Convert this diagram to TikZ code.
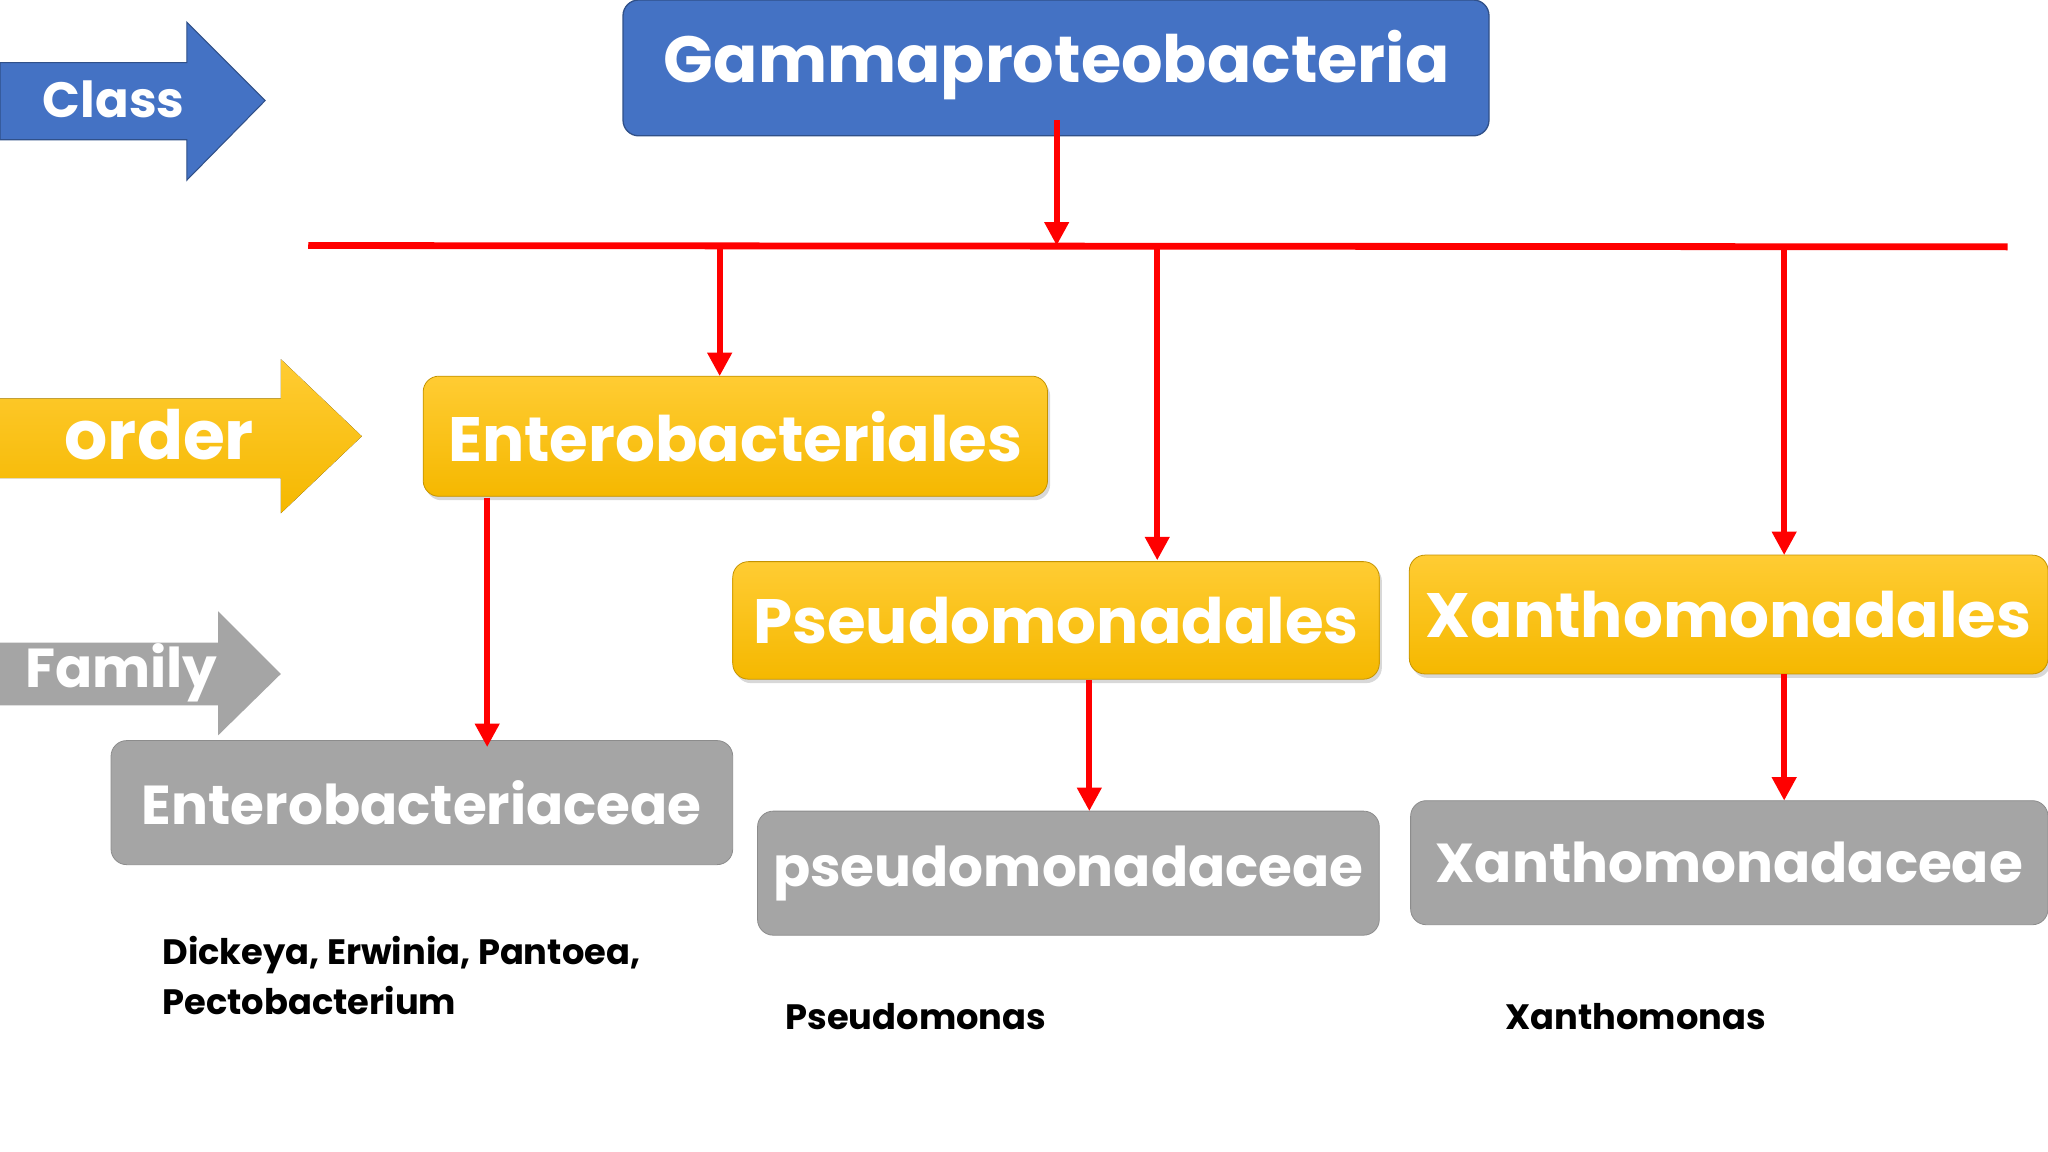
\documentclass[tikz,border=0pt]{standalone}
\usepackage{fontspec}
\setmainfont{Poppins}[BoldFont={Poppins Bold}]
\usetikzlibrary{arrows.meta,shadows}
\definecolor{blu}{HTML}{4472C4}
\definecolor{yel}{HTML}{F5B800}
\definecolor{yelt}{HTML}{FFCC33}
\definecolor{gry}{HTML}{A5A5A5}
\definecolor{red}{HTML}{FF0000}
\begin{document}
\begin{tikzpicture}[x=0.5pt,y=-0.5pt,
  box/.style={rounded corners=6pt,text=white,font=\bfseries,inner sep=0pt},
  ybox/.style={box,top color=yelt,bottom color=yel,draw=yel!80!black,line width=0.3pt,drop shadow={shadow xshift=1pt,shadow yshift=-1.5pt,opacity=0.3}},
  gbox/.style={box,fill=gry,draw=gry!85!black,line width=0.3pt},
  rarr/.style={red,line width=2.2pt,-{Triangle[length=9pt,width=9pt]}},
  sp/.style={font=\bfseries\fontsize{13.5}{17}\selectfont,anchor=west,inner sep=0pt}]
\useasboundingbox[fill=white] (0,0) rectangle (1568,882);
% class arrows
\fill[blu,draw=blu!70!black,line width=0.4pt] (0,48)--(143,48)--(143,17)--(203,77)--(143,138)--(143,107)--(0,107)--cycle;
\node[text=white,font=\bfseries\fontsize{19}{22}\selectfont] (cl) at (87,76) {Class};
\fill[top color=yelt,bottom color=yel] (0,305)--(215,305)--(215,275)--(277,334)--(215,393)--(215,366)--(0,366)--cycle;
\node[text=white,font=\bfseries\fontsize{26}{30}\selectfont] (ord) at (122,333) {order};
\fill[gry] (0,492)--(167,492)--(167,468)--(215,516)--(167,563)--(167,540)--(0,540)--cycle;
\node[text=white,font=\bfseries\fontsize{21}{24}\selectfont] (fam) at (93,515) {Family};
% boxes
\draw[box,fill=blu,draw=blu!70!black,line width=0.5pt] (477,0) rectangle (1140,104);
\node[text=white,font=\bfseries\fontsize{25}{30}\selectfont] (g) at (809,50) {Gammaproteobacteria};
\node[ybox,minimum width=239pt,minimum height=46pt,font=\bfseries\fontsize{24}{28}\selectfont] (en) at (563,334) {Enterobacteriales};
\node[ybox,minimum width=247.5pt,minimum height=45pt,font=\bfseries\fontsize{24}{28}\selectfont] (ps) at (808.5,475) {Pseudomonadales};
\node[ybox,minimum width=244.5pt,minimum height=45.5pt,font=\bfseries\fontsize{24}{28}\selectfont] (xa) at (1323.5,470.5) {Xanthomonadales};
\node[gbox,minimum width=238pt,minimum height=47.5pt,font=\bfseries\fontsize{21}{25}\selectfont] (enf) at (323,614.5) {Enterobacteriaceae};
\node[gbox,minimum width=238pt,minimum height=47.5pt,font=\bfseries\fontsize{21}{25}\selectfont] (psf) at (818,668.5) {pseudomonadaceae};
\node[gbox,minimum width=244pt,minimum height=47.5pt,font=\bfseries\fontsize{21}{25}\selectfont] (xaf) at (1324,660.5) {Xanthomonadaceae};
% red lines
\coordinate (L) at (236,188); \coordinate (R) at (1537,189);
\draw[red,line width=2.6pt] (L)--(R);
\coordinate (c0) at (809,92); \coordinate (c1) at (809,188);
\draw[rarr] (c0)--(c1);
\coordinate (a1) at (551,188); \coordinate (a2) at (886,188); \coordinate (a3) at (1366,189);
\draw[rarr] (a1)--(551,288);
\draw[rarr] (a2)--(886,429);
\draw[rarr] (a3)--(1366,425);
\draw[rarr] (373,381)--(373,572);
\draw[rarr] (834,521)--(834,621);
\draw[rarr] (1366,516)--(1366,613);
% species
\node[sp] (s1) at (124,731) {Dickeya, Erwinia, Pantoea,};
\node[sp] (s2) at (124,766) {Pectobacterium};
\node[sp] (s3) at (601,778) {Pseudomonas};
\node[sp] (s4) at (1152,778) {Xanthomonas};
\end{tikzpicture}
\end{document}
